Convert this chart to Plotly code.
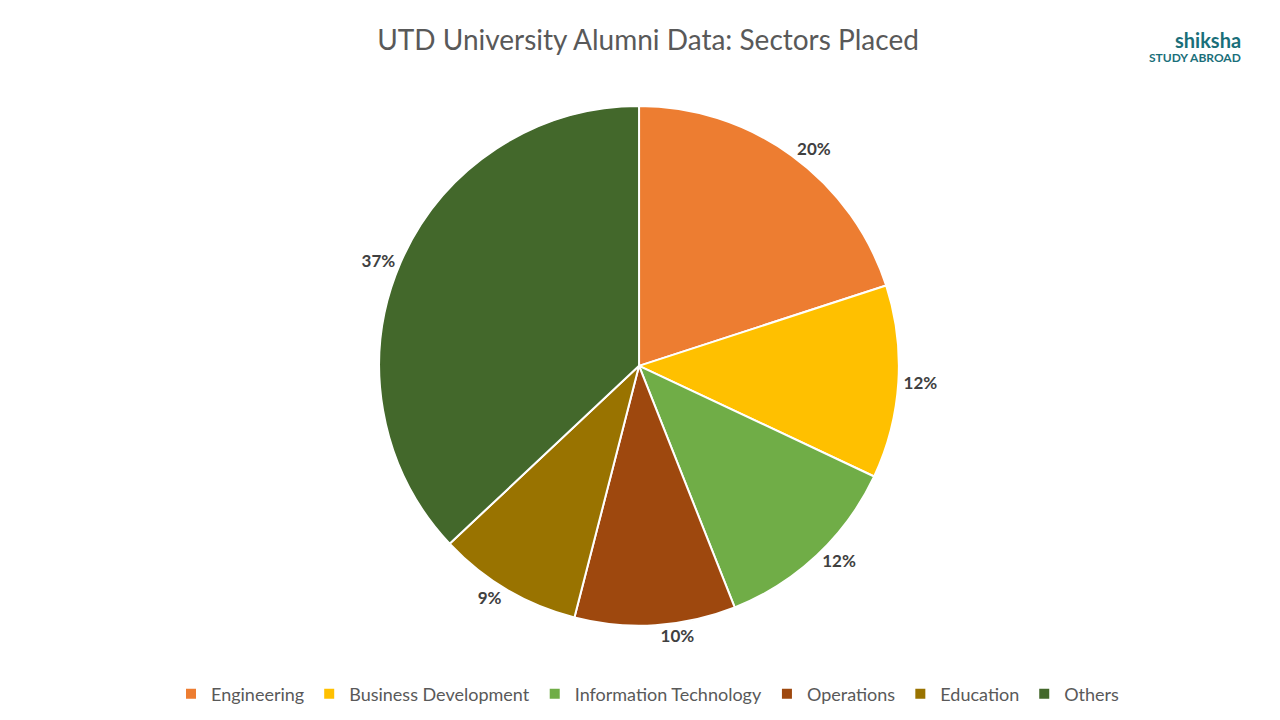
import plotly.graph_objects as go

sectors = ["Engineering", "Business Development", "Information Technology", "Operations", "Education", "Others"]
shares = [20, 12, 12, 10, 9, 37]
colors = ["#ED7D31", "#FFC000", "#70AD47", "#9E480E", "#997300", "#43682B"]

fig = go.Figure(go.Pie(
    labels=sectors, values=shares, sort=False, direction="clockwise", rotation=0,
    marker=dict(colors=colors, line=dict(color="white", width=2)),
    texttemplate="<b>%{value}%</b>", textposition="outside",
    textfont=dict(size=17, color="#404040", family="Lato"),
    domain=dict(x=[0.29, 0.696], y=[0.142, 0.864]),
    hoverinfo="label+value",
))
fig.update_layout(
    width=1280, height=720, paper_bgcolor="white", plot_bgcolor="white",
    margin=dict(l=0, r=0, t=0, b=0),
    font=dict(family="Lato", color="#595959"),
    title=dict(text="UTD University Alumni Data: Sectors Placed", x=0.5, xanchor="center",
               y=0.955, yanchor="middle", font=dict(size=28, color="#595959", family="Lato")),
    legend=dict(orientation="h", x=0.5, xanchor="center", y=0.047, yanchor="middle",
                font=dict(size=18, color="#595959"), itemwidth=30),
    showlegend=True,
    annotations=[
        dict(text="<b>shiksha</b>", x=0.965, y=0.975, xref="paper", yref="paper", showarrow=False,
             font=dict(size=20, color="#1a6f7a", family="Lato")),
        dict(text="<b>STUDY ABROAD</b>", x=0.965, y=0.945, xref="paper", yref="paper", showarrow=False,
             font=dict(size=12, color="#1a6f7a", family="Lato")),
    ],
)
fig.write_html("out.html")
